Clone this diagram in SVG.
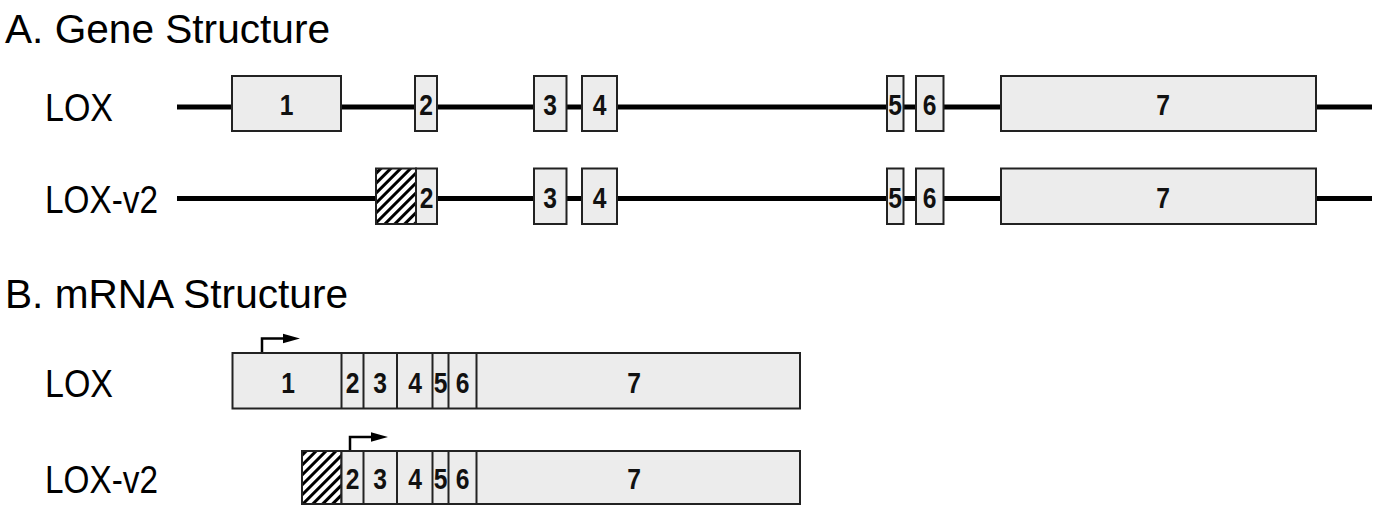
<svg xmlns="http://www.w3.org/2000/svg" width="1397" height="527" viewBox="0 0 1397 527">
<style>
.title{font-family:"Liberation Sans",Arial,sans-serif;font-size:41px;fill:#000}
.lbl{font-family:"Liberation Sans",Arial,sans-serif;font-size:38px;fill:#000}
.num{font-family:"Liberation Sans",Arial,sans-serif;font-size:29px;font-weight:bold;fill:#111;text-anchor:middle}
.ex{fill:#ececec;stroke:#222;stroke-width:2}
.hat{fill:url(#hatch);stroke:#222;stroke-width:2}
.intron{stroke:#000;stroke-width:5;fill:none}
.tss{stroke:#000;stroke-width:2.5;fill:none}
.dv{stroke:#222;stroke-width:2}
</style>
<defs>
<pattern id="hatch" patternUnits="userSpaceOnUse" width="7" height="7" patternTransform="rotate(45)">
<rect width="7" height="7" fill="#fff"/>
<line x1="3.5" y1="-1" x2="3.5" y2="8" stroke="#000" stroke-width="3"/>
</pattern>
</defs>
<rect width="1397" height="527" fill="#fff"/>

<text class="title" x="5" y="43" textLength="325" lengthAdjust="spacingAndGlyphs">A. Gene Structure</text>
<text class="title" x="5" y="308" textLength="343" lengthAdjust="spacingAndGlyphs">B. mRNA Structure</text>

<g id="connectors">
<line class="intron" x1="177" y1="107" x2="1372" y2="107"/>
<line class="intron" x1="177" y1="198.5" x2="1372" y2="198.5"/>
</g>

<g id="gene-lox">
<text class="lbl" x="45" y="121" textLength="68" lengthAdjust="spacingAndGlyphs">LOX</text>
<rect class="ex" x="232" y="76" width="109" height="55"/>
<rect class="ex" x="415" y="76" width="22" height="55"/>
<rect class="ex" x="534" y="76" width="32.5" height="55"/>
<rect class="ex" x="582" y="76" width="35" height="55"/>
<rect class="ex" x="887" y="76" width="16.5" height="55"/>
<rect class="ex" x="916" y="76" width="27.5" height="55"/>
<rect class="ex" x="1001" y="76" width="315" height="55"/>
<g transform="scale(0.85,1)">
<text class="num" x="337.06" y="115.5">1</text>
<text class="num" x="501.18" y="115.5">2</text>
<text class="num" x="647.06" y="115.5">3</text>
<text class="num" x="705.29" y="115.5">4</text>
<text class="num" x="1052.94" y="115.5">5</text>
<text class="num" x="1093.53" y="115.5">6</text>
<text class="num" x="1368.24" y="115.5">7</text>
</g>
</g>

<g id="gene-loxv2">
<text class="lbl" x="45" y="213" textLength="113" lengthAdjust="spacingAndGlyphs">LOX-v2</text>
<rect class="hat" x="376" y="168.5" width="40" height="55.5"/>
<rect class="ex" x="416" y="168.5" width="21" height="55.5"/>
<rect class="ex" x="534" y="168.5" width="32.5" height="55.5"/>
<rect class="ex" x="582" y="168.5" width="35" height="55.5"/>
<rect class="ex" x="887" y="168.5" width="16.5" height="55.5"/>
<rect class="ex" x="916" y="168.5" width="27.5" height="55.5"/>
<rect class="ex" x="1001" y="168.5" width="315" height="55.5"/>
<g transform="scale(0.85,1)">
<text class="num" x="501.76" y="208.5">2</text>
<text class="num" x="647.06" y="208.5">3</text>
<text class="num" x="705.29" y="208.5">4</text>
<text class="num" x="1052.94" y="208.5">5</text>
<text class="num" x="1093.53" y="208.5">6</text>
<text class="num" x="1368.24" y="208.5">7</text>
</g>
</g>

<g id="mrna-lox">
<text class="lbl" x="45" y="397" textLength="68" lengthAdjust="spacingAndGlyphs">LOX</text>
<rect class="ex" x="232.5" y="353" width="567.5" height="55.5"/>
<line class="dv" x1="341.5" y1="353" x2="341.5" y2="408.5"/>
<line class="dv" x1="363.5" y1="353" x2="363.5" y2="408.5"/>
<line class="dv" x1="397" y1="353" x2="397" y2="408.5"/>
<line class="dv" x1="432.5" y1="353" x2="432.5" y2="408.5"/>
<line class="dv" x1="448.5" y1="353" x2="448.5" y2="408.5"/>
<line class="dv" x1="476.5" y1="353" x2="476.5" y2="408.5"/>
<g transform="scale(0.85,1)">
<text class="num" x="338.82" y="393.5">1</text>
<text class="num" x="414.71" y="393.5">2</text>
<text class="num" x="447.06" y="393.5">3</text>
<text class="num" x="488.24" y="393.5">4</text>
<text class="num" x="518.24" y="393.5">5</text>
<text class="num" x="544.12" y="393.5">6</text>
<text class="num" x="745.88" y="393.5">7</text>
</g>
<path class="tss" d="M262,352 V338.5 H285"/>
<polygon points="283,333.8 300,338.5 283,343.2" fill="#000"/>
</g>

<g id="mrna-loxv2">
<text class="lbl" x="45" y="493" textLength="113" lengthAdjust="spacingAndGlyphs">LOX-v2</text>
<rect class="hat" x="302" y="451" width="39.5" height="53"/>
<rect class="ex" x="341.5" y="451" width="458.5" height="53"/>
<line class="dv" x1="363.5" y1="451" x2="363.5" y2="504"/>
<line class="dv" x1="397" y1="451" x2="397" y2="504"/>
<line class="dv" x1="432.5" y1="451" x2="432.5" y2="504"/>
<line class="dv" x1="448.5" y1="451" x2="448.5" y2="504"/>
<line class="dv" x1="476.5" y1="451" x2="476.5" y2="504"/>
<g transform="scale(0.85,1)">
<text class="num" x="414.71" y="489.5">2</text>
<text class="num" x="447.06" y="489.5">3</text>
<text class="num" x="488.24" y="489.5">4</text>
<text class="num" x="518.24" y="489.5">5</text>
<text class="num" x="544.12" y="489.5">6</text>
<text class="num" x="745.88" y="489.5">7</text>
</g>
<path class="tss" d="M350,450 V437 H373"/>
<polygon points="371,432.3 388,437 371,441.7" fill="#000"/>
</g>
</svg>
